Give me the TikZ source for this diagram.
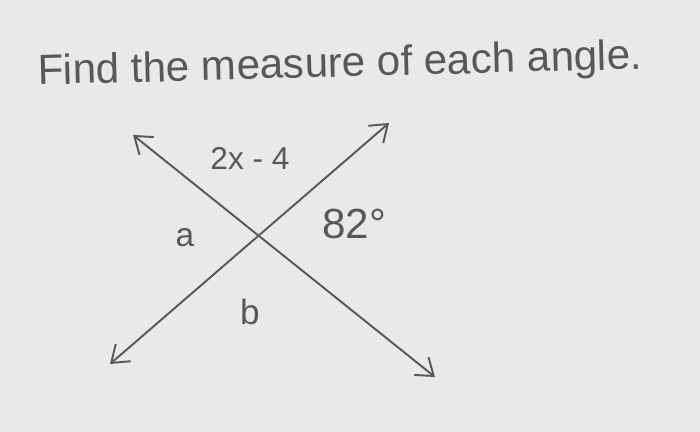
\documentclass[tikz,border=0pt]{standalone}
\usepackage{fontspec}
\setmainfont{Liberation Sans}
\usetikzlibrary{arrows.meta, positioning}
\definecolor{paper}{RGB}{233,233,231}
\definecolor{pencil}{RGB}{88,88,90}
\tikzstyle{ray} = [draw=pencil, line width=1.1pt, {Straight Barb[length=9pt,width=13pt]}-{Straight Barb[length=9pt,width=13pt]}]
\tikzstyle{anglelabel} = [text=pencil, inner sep=1pt]
\tikzstyle{title} = [text=pencil, font=\fontsize{24}{28}\selectfont, rotate=1.5]
\begin{document}
\begin{tikzpicture}[x=0.02cm, y=-0.02cm]
	\useasboundingbox[fill=paper] (0,0) rectangle (700,432);
	\node[title] (question) at (340,66) {Find the measure of each angle.};
	% ends of the two lines
	\coordinate (ul) at (133,135);
	\coordinate (lr) at (435,377);
	\coordinate (ll) at (110,364);
	\coordinate (ur) at (389,123);
	\draw[ray] (ul) -- (lr);
	\draw[ray] (ll) -- (ur);
	% angles
	\node[anglelabel, font=\fontsize{18}{20}\selectfont] (top) at (250,158) {2x - 4};
	\node[anglelabel, font=\fontsize{19}{22}\selectfont] (left) at (185,238) {a};
	\node[anglelabel, font=\fontsize{24}{26}\selectfont] (right) at (354,224) {82°};
	\node[anglelabel, font=\fontsize{20}{22}\selectfont] (bottom) at (250,312) {b};
\end{tikzpicture}
\end{document}
